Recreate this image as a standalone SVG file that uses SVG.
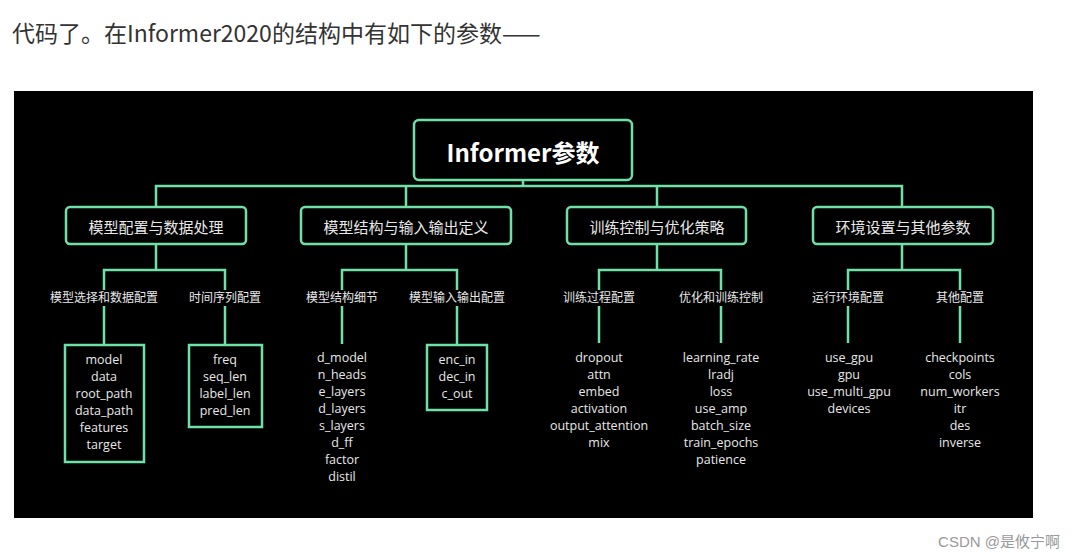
<svg xmlns="http://www.w3.org/2000/svg" width="1076" height="559" viewBox="0 0 1076 559">
<style>
.bx{fill:none;stroke:#6fe0a8;stroke-width:2.5}
.ln{fill:none;stroke:#6fe0a8;stroke-width:2.5}
.t{font-family:"Noto Sans CJK SC","Noto Sans",sans-serif;fill:#e8e8e8;text-anchor:middle;dominant-baseline:central}
.h{font-size:15px}
.s{font-size:12px}
.p{font-family:"Open Sans","Noto Sans",sans-serif;font-size:12.5px;fill:#e8e8e8;text-anchor:middle}
</style>
<rect width="1076" height="559" fill="#fff"/>
<text x="12" y="42" font-family="'Noto Sans CJK SC',sans-serif" font-size="23" fill="#333">代码了。在Informer2020的结构中有如下的参数——</text>
<text x="1060" y="547" font-family="'Liberation Sans','Noto Sans CJK SC',sans-serif" font-size="15" fill="#999" text-anchor="end">CSDN @是攸宁啊</text>
<rect x="14" y="91" width="1019" height="427" fill="#000"/>
<g id="connectors">
<path class="ln" d="M523 180V186M156 207V186H902V207M406 186V207M657 186V207"/>
<path class="ln" d="M156 244V270M104 290V270H225V290M406 244V270M342 290V270H457V290M657 244V270M599 290V270H721V290M902 244V270M848 290V270H960V290"/>
<path class="ln" d="M104 306V345M225 306V345M342 306V344M457 306V345M599 306V343M721 306V343M848 306V343M960 306V343"/>
</g>
<g id="root"><rect class="bx" x="414" y="120" width="218" height="60" rx="5"/><text class="t" x="523" y="151" font-size="24" font-weight="bold" fill="#fff" style="fill:#fff">Informer参数</text></g>
<g id="c1"><rect class="bx" x="66" y="207" width="180" height="37" rx="4"/><text class="t h" x="156" y="226">模型配置与数据处理</text></g>
<g id="c2"><rect class="bx" x="301" y="207" width="210" height="37" rx="4"/><text class="t h" x="406" y="226">模型结构与输入输出定义</text></g>
<g id="c3"><rect class="bx" x="567" y="207" width="179" height="37" rx="4"/><text class="t h" x="657" y="226">训练控制与优化策略</text></g>
<g id="c4"><rect class="bx" x="813" y="207" width="180" height="37" rx="4"/><text class="t h" x="903" y="226">环境设置与其他参数</text></g>
<g id="s1"><text class="t s" x="104" y="296">模型选择和数据配置</text></g>
<g id="s2"><text class="t s" x="225" y="296">时间序列配置</text></g>
<g id="s3"><text class="t s" x="342" y="296">模型结构细节</text></g>
<g id="s4"><text class="t s" x="457" y="296">模型输入输出配置</text></g>
<g id="s5"><text class="t s" x="599" y="296">训练过程配置</text></g>
<g id="s6"><text class="t s" x="721" y="296">优化和训练控制</text></g>
<g id="s7"><text class="t s" x="848" y="296">运行环境配置</text></g>
<g id="s8"><text class="t s" x="960" y="296">其他配置</text></g>
<g id="l1"><rect class="bx" x="65" y="345" width="79" height="117"/><text class="p" x="104" y="364"><tspan x="104">model</tspan><tspan x="104" dy="17">data</tspan><tspan x="104" dy="17">root_path</tspan><tspan x="104" dy="17">data_path</tspan><tspan x="104" dy="17">features</tspan><tspan x="104" dy="17">target</tspan></text></g>
<g id="l2"><rect class="bx" x="189" y="345" width="73" height="82"/><text class="p" x="225" y="364"><tspan x="225">freq</tspan><tspan x="225" dy="17">seq_len</tspan><tspan x="225" dy="17">label_len</tspan><tspan x="225" dy="17">pred_len</tspan></text></g>
<g id="l3"><text class="p" x="342" y="362"><tspan x="342">d_model</tspan><tspan x="342" dy="17">n_heads</tspan><tspan x="342" dy="17">e_layers</tspan><tspan x="342" dy="17">d_layers</tspan><tspan x="342" dy="17">s_layers</tspan><tspan x="342" dy="17">d_ff</tspan><tspan x="342" dy="17">factor</tspan><tspan x="342" dy="17">distil</tspan></text></g>
<g id="l4"><rect class="bx" x="427" y="345" width="60" height="65"/><text class="p" x="457" y="364"><tspan x="457">enc_in</tspan><tspan x="457" dy="17">dec_in</tspan><tspan x="457" dy="17">c_out</tspan></text></g>
<g id="l5"><text class="p" x="599" y="362"><tspan x="599">dropout</tspan><tspan x="599" dy="17">attn</tspan><tspan x="599" dy="17">embed</tspan><tspan x="599" dy="17">activation</tspan><tspan x="599" dy="17">output_attention</tspan><tspan x="599" dy="17">mix</tspan></text></g>
<g id="l6"><text class="p" x="721" y="362"><tspan x="721">learning_rate</tspan><tspan x="721" dy="17">lradj</tspan><tspan x="721" dy="17">loss</tspan><tspan x="721" dy="17">use_amp</tspan><tspan x="721" dy="17">batch_size</tspan><tspan x="721" dy="17">train_epochs</tspan><tspan x="721" dy="17">patience</tspan></text></g>
<g id="l7"><text class="p" x="849" y="362"><tspan x="849">use_gpu</tspan><tspan x="849" dy="17">gpu</tspan><tspan x="849" dy="17">use_multi_gpu</tspan><tspan x="849" dy="17">devices</tspan></text></g>
<g id="l8"><text class="p" x="960" y="362"><tspan x="960">checkpoints</tspan><tspan x="960" dy="17">cols</tspan><tspan x="960" dy="17">num_workers</tspan><tspan x="960" dy="17">itr</tspan><tspan x="960" dy="17">des</tspan><tspan x="960" dy="17">inverse</tspan></text></g>
</svg>
